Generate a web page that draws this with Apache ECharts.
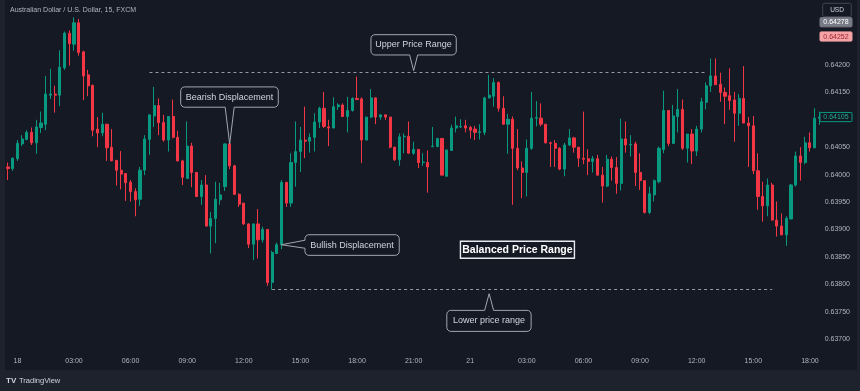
<!DOCTYPE html>
<html><head><meta charset="utf-8">
<script src="https://cdn.jsdelivr.net/npm/echarts@6/dist/echarts.min.js"></script>
<style>html,body{margin:0;padding:0;background:#151924;}#c{width:860px;height:391px;}</style>
</head><body><div id="c"></div>
<script>
// ---- data (15-minute AUD/USD candles) ----
const opens = [0.64014,0.64011,0.64029,0.64056,0.64064,0.64077,0.64058,0.64086,0.64092,0.64145,0.64147,0.64145,0.64195,0.64258,0.64238,0.64277,0.64224,0.64182,0.64163,0.64083,0.64076,0.64092,0.64050,0.64026,0.64008,0.64002,0.63986,0.63969,0.63955,0.64008,0.64064,0.64107,0.64126,0.64095,0.64063,0.64106,0.64068,0.64025,0.63993,0.64052,0.64004,0.63960,0.63981,0.63906,0.63920,0.63954,0.63978,0.64056,0.64016,0.63964,0.63948,0.63910,0.63873,0.63910,0.63881,0.63900,0.63803,0.63856,0.63872,0.63986,0.63948,0.64022,0.64042,0.64063,0.64061,0.64068,0.64096,0.64121,0.64087,0.64085,0.64124,0.64127,0.64106,0.64117,0.64139,0.64138,0.64063,0.64105,0.64140,0.64105,0.64109,0.64105,0.64050,0.64027,0.64069,0.64070,0.64039,0.64046,0.64022,0.64022,0.64051,0.64051,0.64066,0.63997,0.64044,0.64085,0.64087,0.64089,0.64086,0.64083,0.64077,0.64077,0.64140,0.64143,0.64168,0.64121,0.64092,0.64101,0.64048,0.64012,0.64004,0.64048,0.64103,0.64103,0.64092,0.64058,0.64057,0.64048,0.64010,0.64054,0.64067,0.64050,0.64030,0.64029,0.64024,0.64029,0.63999,0.63979,0.64028,0.64013,0.63984,0.64065,0.64054,0.64056,0.64004,0.63989,0.63931,0.63963,0.63987,0.64046,0.64117,0.64057,0.64106,0.64119,0.64048,0.64074,0.64043,0.64083,0.64132,0.64162,0.64180,0.64165,0.64150,0.64144,0.64136,0.64112,0.64139,0.64094,0.64089,0.64007,0.63960,0.63943,0.63981,0.63917,0.63906,0.63890,0.63919,0.63981,0.64034,0.64022,0.64058,0.64049,0.64103];
const closes = [0.64011,0.64030,0.64057,0.64065,0.64077,0.64058,0.64087,0.64094,0.64147,0.64147,0.64145,0.64196,0.64258,0.64239,0.64277,0.64223,0.64180,0.64162,0.64081,0.64076,0.64092,0.64049,0.64025,0.64008,0.64001,0.63985,0.63969,0.63954,0.64008,0.64065,0.64109,0.64126,0.64095,0.64063,0.64106,0.64068,0.64025,0.63995,0.64052,0.64004,0.63960,0.63981,0.63906,0.63920,0.63955,0.63963,0.64056,0.64016,0.63964,0.63946,0.63910,0.63873,0.63910,0.63881,0.63900,0.63803,0.63858,0.63872,0.63986,0.63948,0.64022,0.64042,0.64063,0.64061,0.64068,0.64096,0.64121,0.64088,0.64085,0.64124,0.64127,0.64106,0.64117,0.64139,0.64137,0.64063,0.64105,0.64140,0.64105,0.64109,0.64105,0.64050,0.64027,0.64069,0.64070,0.64039,0.64046,0.64022,0.64023,0.64014,0.64052,0.64066,0.63999,0.64045,0.64085,0.64089,0.64088,0.64085,0.64081,0.64077,0.64078,0.64140,0.64145,0.64168,0.64121,0.64092,0.64101,0.64048,0.64012,0.64004,0.64048,0.64103,0.64104,0.64092,0.64058,0.64057,0.64048,0.64010,0.64054,0.64067,0.64050,0.64030,0.64028,0.64024,0.64029,0.63999,0.63979,0.64028,0.64013,0.63984,0.64065,0.64054,0.64055,0.64004,0.63989,0.63931,0.63965,0.63989,0.64048,0.64117,0.64057,0.64107,0.64119,0.64048,0.64074,0.64043,0.64083,0.64133,0.64162,0.64180,0.64164,0.64150,0.64143,0.64135,0.64112,0.64139,0.64094,0.64089,0.64007,0.63960,0.63943,0.63981,0.63917,0.63906,0.63890,0.63920,0.63981,0.64034,0.64022,0.64058,0.64049,0.64103,0.64105];
const lows = [0.63990,0.64007,0.64025,0.64052,0.64063,0.64054,0.64038,0.64076,0.64081,0.64138,0.64113,0.64125,0.64191,0.64199,0.64226,0.64217,0.64136,0.64143,0.64070,0.64050,0.64070,0.64025,0.64025,0.63980,0.63973,0.63952,0.63951,0.63924,0.63943,0.63999,0.64036,0.64087,0.64072,0.64060,0.64042,0.64066,0.64024,0.63981,0.63993,0.63977,0.63960,0.63945,0.63906,0.63856,0.63875,0.63945,0.63970,0.64010,0.63963,0.63941,0.63908,0.63866,0.63844,0.63847,0.63876,0.63797,0.63790,0.63855,0.63864,0.63941,0.63941,0.63978,0.64005,0.64030,0.64040,0.64042,0.64085,0.64085,0.64052,0.64085,0.64118,0.64105,0.64077,0.64115,0.64137,0.64021,0.64063,0.64103,0.64092,0.64100,0.64100,0.64048,0.64025,0.64016,0.64039,0.64038,0.64036,0.64012,0.64016,0.63967,0.64050,0.64051,0.63999,0.63996,0.64044,0.64077,0.64085,0.64077,0.64066,0.64063,0.64064,0.64072,0.64139,0.64124,0.64115,0.64091,0.64038,0.63945,0.64008,0.63957,0.63960,0.64045,0.64088,0.64088,0.64057,0.64014,0.64014,0.64008,0.63997,0.64052,0.64040,0.64014,0.64019,0.63999,0.64004,0.63999,0.63949,0.63977,0.63989,0.63965,0.63971,0.64040,0.64033,0.63979,0.63972,0.63929,0.63928,0.63951,0.63984,0.64039,0.64052,0.64056,0.64077,0.64045,0.64022,0.64019,0.64034,0.64077,0.64119,0.64151,0.64164,0.64133,0.64092,0.64118,0.64060,0.64089,0.64094,0.64014,0.64001,0.63936,0.63914,0.63924,0.63916,0.63887,0.63890,0.63870,0.63919,0.63978,0.63989,0.64019,0.64042,0.64048,0.64091];
const highs = [0.64022,0.64031,0.64063,0.64072,0.64081,0.64086,0.64100,0.64115,0.64180,0.64193,0.64162,0.64227,0.64261,0.64263,0.64287,0.64284,0.64226,0.64191,0.64164,0.64105,0.64113,0.64092,0.64083,0.64026,0.64043,0.64002,0.63990,0.63975,0.64014,0.64072,0.64109,0.64160,0.64139,0.64109,0.64106,0.64137,0.64080,0.64027,0.64097,0.64058,0.64004,0.63990,0.63999,0.63932,0.63987,0.63985,0.64057,0.64056,0.64018,0.63966,0.63948,0.63911,0.63910,0.63937,0.63905,0.63900,0.63861,0.63876,0.63990,0.63986,0.64039,0.64097,0.64087,0.64124,0.64075,0.64112,0.64124,0.64151,0.64100,0.64141,0.64130,0.64130,0.64142,0.64141,0.64179,0.64141,0.64105,0.64156,0.64141,0.64109,0.64109,0.64105,0.64051,0.64075,0.64075,0.64097,0.64060,0.64046,0.64039,0.64044,0.64087,0.64066,0.64066,0.64045,0.64091,0.64106,0.64101,0.64100,0.64089,0.64089,0.64092,0.64142,0.64182,0.64176,0.64170,0.64143,0.64111,0.64106,0.64083,0.64024,0.64064,0.64151,0.64134,0.64130,0.64092,0.64060,0.64063,0.64050,0.64058,0.64083,0.64069,0.64050,0.64115,0.64046,0.64034,0.64036,0.64014,0.64036,0.64033,0.64032,0.64102,0.64097,0.64072,0.64060,0.64039,0.63989,0.63978,0.63991,0.64051,0.64153,0.64117,0.64127,0.64156,0.64137,0.64074,0.64083,0.64089,0.64140,0.64168,0.64212,0.64212,0.64186,0.64159,0.64194,0.64151,0.64147,0.64198,0.64105,0.64107,0.64039,0.63987,0.63993,0.63985,0.63951,0.63929,0.63924,0.63983,0.64042,0.64050,0.64069,0.64077,0.64121,0.64115];

// x tick labels: first label at candle index 2, then every 12 candles (3 hours)
const xTickLabels = ['18','03:00','06:00','09:00','12:00','15:00','18:00','21:00','21','03:00','06:00','09:00','12:00','15:00','18:00'];
const xTickFirst = 2, xTickStep = 12;

// annotation anchors (candle index, price)
const upperRange = {from:30, to:148, price:0.64186};
const lowerRange = {from:56, to:162, price:0.63790};
const upperCallout = {text:'Upper Price Range', index:86};
const lowerCallout = {text:'Lower price range', index:102};
const bearishCallout = {text:'Bearish Displacement', index:47};
const bullishCallout = {text:'Bullish Displacement', index:57};
const balancedLabel = {text:'Balanced Price Range', index:108, price:0.63863};
const priceTags = [
  {value:0.64278, bg:'#787b86', fg:'#ffffff', border:null},
  {value:0.64252, bg:'#f5a3a6', fg:'#a3262f', border:null},
  {value:closes[closes.length-1], bg:'#151924', fg:'#22ab94', border:'#089981'}
];

const PANEL = '#151924', OUTER = '#1e222d', TXT = '#b2b5be';
const UP = '#089981', DOWN = '#f23645';
const FONT = '"Liberation Sans", Arial, sans-serif';

const categories = opens.map((_, i) => String(i));
const candleData = opens.map((o, i) => [o, closes[i], lows[i], highs[i]]);

const chart = echarts.init(document.getElementById('c'), null, {renderer: 'canvas'});
chart.setOption({
  animation: false,
  backgroundColor: PANEL,
  grid: {left: 5.6, right: 38.3, top: -17.2, height: 383.6, outerBoundsMode: 'none', containLabel: false},
  xAxis: {
    type: 'category', data: categories, boundaryGap: true, offset: -12,
    axisLine: {show: false}, axisTick: {show: false}, splitLine: {show: false},
    axisLabel: {
      interval: (idx) => idx >= xTickFirst && (idx - xTickFirst) % xTickStep === 0,
      formatter: (v, idx) => {
        const k = (idx - xTickFirst) / xTickStep;
        return (k >= 0 && Number.isInteger(k) && xTickLabels[k]) ? xTickLabels[k] : '';
      },
      color: TXT, fontSize: 7, margin: 3, fontFamily: FONT
    }
  },
  yAxis: {
    type: 'value', position: 'right', min: 0.6365, max: 0.6435, interval: 0.0005,
    axisLine: {show: false}, axisTick: {show: false}, splitLine: {show: false},
    axisLabel: {
      formatter: (v) => (v > 0.63695 && v < 0.64205) ? v.toFixed(5) : '',
      color: TXT, fontSize: 7, margin: 3, fontFamily: FONT
    }
  },
  series: [{
    type: 'candlestick', data: candleData, barWidth: 2.6,
    itemStyle: {color: UP, color0: DOWN, borderColor: UP, borderColor0: DOWN, borderColorDoji: UP, borderWidth: 1},
    markLine: {
      silent: true, animation: false, symbol: ['none', 'none'], label: {show: false},
      lineStyle: {color: '#9598a1', type: [3, 3], width: 1},
      emphasis: {disabled: true},
      data: [
        [{coord: [upperRange.from, upperRange.price]}, {coord: [upperRange.to, upperRange.price]}],
        [{coord: [lowerRange.from, lowerRange.price]}, {coord: [lowerRange.to, lowerRange.price]}]
      ]
    }
  }]
});

function px(idx, price) { return chart.convertToPixel({seriesIndex: 0}, [idx, price]); }

function arc(pts, cx, cy, r, a0, a1) {
  for (let k = 0; k <= 4; k++) {
    const a = (a0 + (a1 - a0) * k / 4) * Math.PI / 180;
    pts.push([cx + r * Math.cos(a), cy + r * Math.sin(a)]);
  }
}
function calloutPoints(l, t, w, h, r, ptr) {
  const R = l + w, B = t + h, pts = [];
  if (ptr.side === 'top') pts.push([ptr.c - ptr.half, t], [ptr.x, ptr.y], [ptr.c + ptr.half, t]);
  arc(pts, R - r, t + r, r, -90, 0);
  arc(pts, R - r, B - r, r, 0, 90);
  if (ptr.side === 'bottom') pts.push([ptr.c + ptr.half, B], [ptr.x, ptr.y], [ptr.c - ptr.half, B]);
  arc(pts, l + r, B - r, r, 90, 180);
  if (ptr.side === 'left') pts.push([l, ptr.c + ptr.half], [ptr.x, ptr.y], [l, ptr.c - ptr.half]);
  arc(pts, l + r, t + r, r, 180, 270);
  return pts;
}

function callout(text, l, t, w, h, ptr) {
  return [
    {type: 'polygon', z: 100, shape: {points: calloutPoints(l, t, w, h, 4, ptr)},
     style: {fill: PANEL, stroke: '#a3a6af', lineWidth: 1}},
    {type: 'text', z: 101, style: {text: text, x: l + w / 2, y: t + h / 2, fill: '#d1d4dc',
      font: '9px ' + FONT, align: 'center', verticalAlign: 'middle', textAlign: 'center', textVerticalAlign: 'middle'}}
  ];
}

const g = [];
// outer frame
g.push({type: 'rect', z: 50, shape: {x: 0, y: 0, width: 5, height: 391}, style: {fill: OUTER}});
g.push({type: 'rect', z: 50, shape: {x: 857, y: 0, width: 3, height: 391}, style: {fill: OUTER}});
g.push({type: 'rect', z: 50, shape: {x: 0, y: 370, width: 860, height: 21}, style: {fill: OUTER}});
// title
g.push({type: 'text', z: 60, style: {text: 'Australian Dollar / U.S. Dollar, 15, FXCM', x: 10, y: 10, fill: TXT,
  font: '7px ' + FONT, align: 'left', verticalAlign: 'middle', textAlign: 'left', textVerticalAlign: 'middle'}});
// footer logo
g.push({type: 'text', z: 60, style: {text: 'TV', x: 6, y: 381, fill: '#d1d4dc', font: 'bold 8px ' + FONT,
  align: 'left', verticalAlign: 'middle', textAlign: 'left', textVerticalAlign: 'middle'}});
g.push({type: 'text', z: 60, style: {text: 'TradingView', x: 19, y: 381, fill: '#d1d4dc', font: '7.5px ' + FONT,
  align: 'left', verticalAlign: 'middle', textAlign: 'left', textVerticalAlign: 'middle'}});
// USD box
g.push({type: 'rect', z: 60, shape: {x: 822.7, y: 3.3, width: 28.6, height: 13.4, r: 2}, style: {fill: PANEL, stroke: '#434651', lineWidth: 1}});
g.push({type: 'text', z: 61, style: {text: 'USD', x: 837, y: 10.2, fill: '#d1d4dc', font: '6.5px ' + FONT,
  align: 'center', verticalAlign: 'middle', textAlign: 'center', textVerticalAlign: 'middle'}});
// price tags
priceTags.forEach(tag => {
  const y = px(0, tag.value)[1];
  g.push({type: 'rect', z: 60, shape: {x: 820, y: y - 4.6, width: 32, height: 9.2, r: 1},
    style: {fill: tag.bg, stroke: tag.border || tag.bg, lineWidth: 1}});
  g.push({type: 'text', z: 61, style: {text: tag.value.toFixed(5), x: 836, y: y + 0.3, fill: tag.fg, font: '7px ' + FONT,
    align: 'center', verticalAlign: 'middle', textAlign: 'center', textVerticalAlign: 'middle'}});
});

// Upper price range callout
{
  const p = px(upperCallout.index, upperRange.price);
  const tx = p[0], ty = p[1] - 2;
  g.push(...callout(upperCallout.text, tx - 42.7, ty - 36, 85.3, 20.3, {side: 'bottom', c: tx, half: 4, x: tx, y: ty}));
}
// Bearish displacement callout (points at candle high)
{
  const i = bearishCallout.index;
  const p = px(i, highs[i]);
  const tx = p[0], ty = p[1];
  g.push(...callout(bearishCallout.text, tx - 49, ty - 57, 97.6, 20.3, {side: 'bottom', c: tx, half: 4.5, x: tx, y: ty}));
}
// Bullish displacement callout (points at candle close, from the right)
{
  const i = bullishCallout.index;
  const p = px(i, closes[i]);
  const tx = p[0] + 4.5, ty = p[1];
  g.push(...callout(bullishCallout.text, tx + 23.6, ty - 10, 94.3, 20.6, {side: 'left', c: ty - 0.5, half: 4, x: tx, y: ty}));
}
// Lower price range callout
{
  const p = px(lowerCallout.index, lowerRange.price);
  const tx = p[0], ty = p[1] + 4;
  g.push(...callout(lowerCallout.text, tx - 42.3, ty + 16.7, 84.3, 21, {side: 'top', c: tx, half: 4.5, x: tx, y: ty}));
}
// Balanced price range label
{
  const p = px(balancedLabel.index, balancedLabel.price);
  g.push({type: 'rect', z: 100, shape: {x: p[0] - 57, y: p[1] - 8.5, width: 114, height: 17},
    style: {fill: PANEL, stroke: '#e8eaf0', lineWidth: 1.4}});
  g.push({type: 'text', z: 101, style: {text: balancedLabel.text, x: p[0], y: p[1] + 0.3, fill: '#ffffff',
    font: 'bold 10.5px ' + FONT, align: 'center', verticalAlign: 'middle', textAlign: 'center', textVerticalAlign: 'middle'}});
}

chart.setOption({graphic: {elements: g}});
</script>
</body></html>
